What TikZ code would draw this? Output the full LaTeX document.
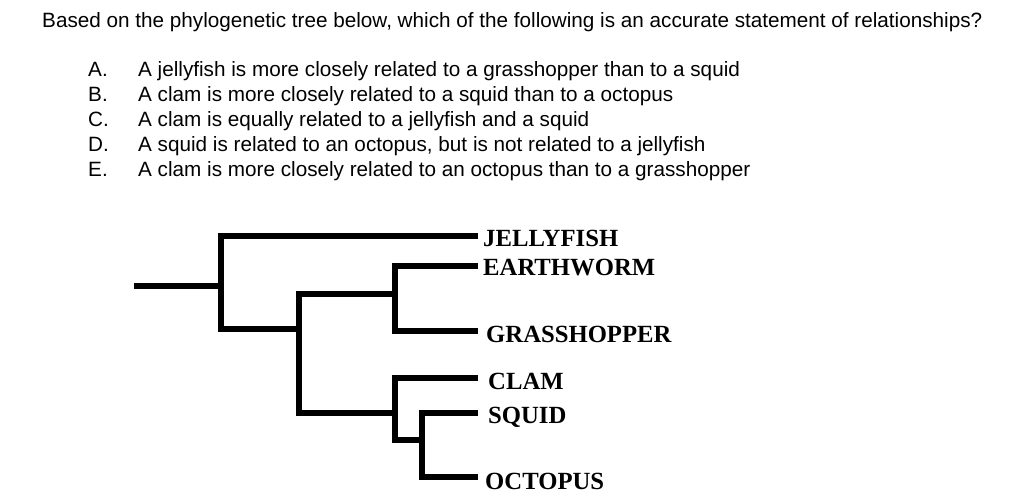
\documentclass[tikz,border=0pt]{standalone}
\usepackage{fontspec}
\setmainfont{Liberation Serif}
\setsansfont{Liberation Sans}
\begin{document}
\begin{tikzpicture}[x=1pt,y=-1pt,
 br/.style={line width=5.5pt,line cap=rect,line join=miter},
 q/.style={anchor=base west,inner sep=0pt,font=\sffamily\fontsize{20.7}{24}\selectfont},
 lab/.style={anchor=west,inner sep=0pt,font=\bfseries\fontsize{24.7}{26}\selectfont}]
\useasboundingbox (0,0) rectangle (1024,494);
\node[q] (t) at (42,28) {Based on the phylogenetic tree below, which of the following is an accurate statement of relationships?};
\node[q] (la) at (88,77) {A.}; \node[q] (ta) at (138,77) {A jellyfish is more closely related to a grasshopper than to a squid};
\node[q] (lb) at (88,102) {B.}; \node[q] (tb) at (138,102) {A clam is more closely related to a squid than to a octopus};
\node[q] (lc) at (88,127) {C.}; \node[q] (tc) at (138,127) {A clam is equally related to a jellyfish and a squid};
\node[q] (ld) at (88,152) {D.}; \node[q] (td) at (138,152) {A squid is related to an octopus, but is not related to a jellyfish};
\node[q] (le) at (88,177) {E.}; \node[q] (te) at (138,177) {A clam is more closely related to an octopus than to a grasshopper};
\node[lab] (j) at (483,238) {JELLYFISH};
\node[lab] (e) at (483,268) {EARTHWORM};
\node[lab] (g) at (486,334) {GRASSHOPPER};
\node[lab] (c) at (488,381) {CLAM};
\node[lab] (s) at (488,417) {SQUID};
\node[lab] (o) at (485,481) {OCTOPUS};
\coordinate (r0) at (137,286);
\coordinate (n1) at (221,286);
\coordinate (n2) at (299,329);
\coordinate (n3) at (395,294);
\coordinate (n4) at (395,413);
\coordinate (n5) at (422,440);
\draw[br] (r0) -- (n1);
\draw[br] (475,236) -| (221,329) -- (n2);
\draw[br] (n3) -| (299,413) -- (n4);
\draw[br] (475,266) -| (395,331) -- (475,331);
\draw[br] (475,378) -| (395,440) -- (n5);
\draw[br] (475,413) -| (422,477) -- (475,477);
\end{tikzpicture}
\end{document}
